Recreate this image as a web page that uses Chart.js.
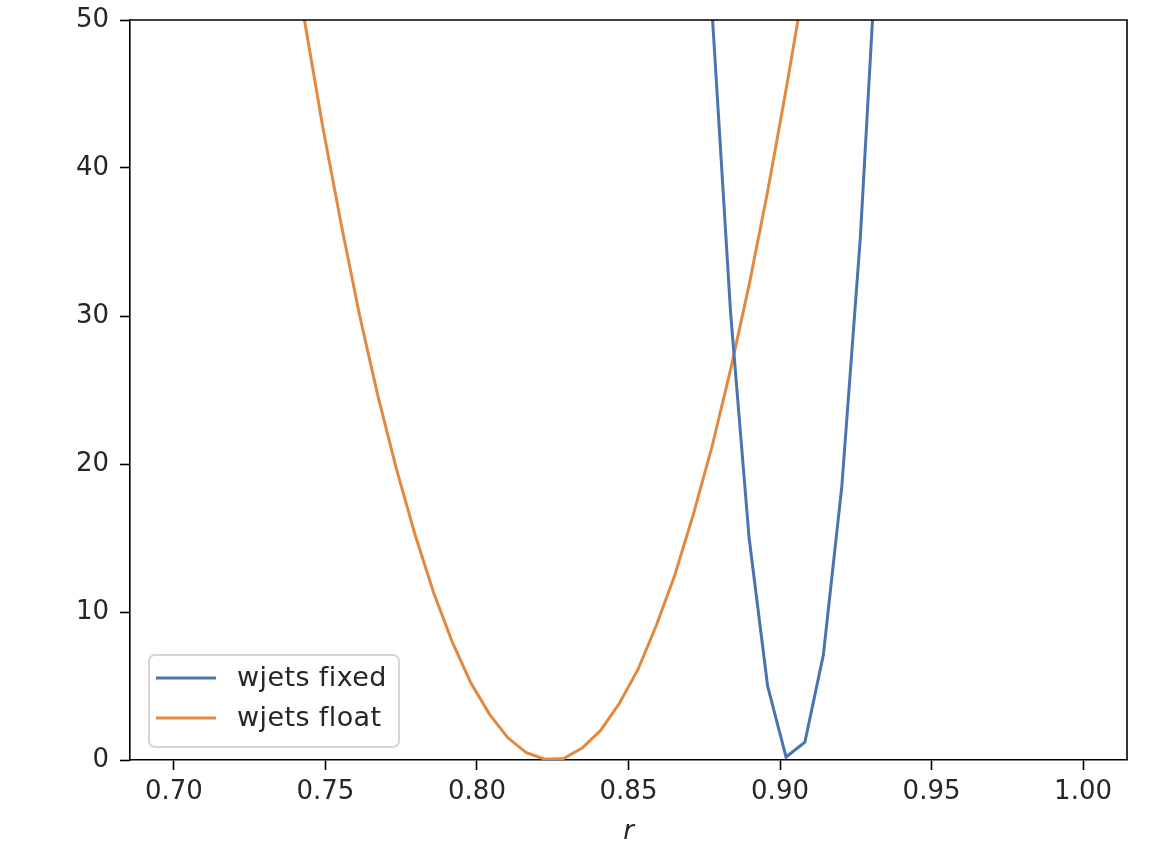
<!DOCTYPE html>
<html>
<head>
<meta charset="utf-8">
<script src="https://cdn.jsdelivr.net/npm/chart.js@4.4.1/dist/chart.umd.min.js"></script>
<style>
  html, body { margin: 0; padding: 0; background: #fff; }
  canvas { display: block; }
</style>
</head>
<body>
<canvas id="chart" width="1152" height="852"></canvas>
<script>
// scan points for "wjets float"
const rFloat = [0.7367, 0.7429, 0.7490, 0.7551, 0.7612, 0.7673, 0.7735, 0.7796, 0.7857, 0.7918,
                0.7980, 0.8041, 0.8102, 0.8163, 0.8224, 0.8286, 0.8347, 0.8408, 0.8469, 0.8531,
                0.8592, 0.8653, 0.8714, 0.8776, 0.8837, 0.8898, 0.8959, 0.9020, 0.9082];
const nllFloat = [58.0, 50.2, 42.9, 36.3, 30.1, 24.6, 19.6, 15.2, 11.3, 8.0,
                  5.2, 3.1, 1.5, 0.5, 0.05, 0.1, 0.8, 2.0, 3.8, 6.1,
                  9.1, 12.5, 16.6, 21.2, 26.4, 32.1, 38.4, 45.3, 52.7];

// scan points for "wjets fixed"
const rFixed = [0.8714, 0.8776, 0.8837, 0.8898, 0.8959, 0.9020, 0.9082, 0.9143, 0.9204, 0.9265, 0.9327];
const nllFixed = [76.0, 50.5, 30.2, 15.0, 5.0, 0.2, 1.2, 7.1, 18.5, 35.3, 58.0];

const xTicks = [0.70, 0.75, 0.80, 0.85, 0.90, 0.95, 1.00];
const yTicks = [0, 10, 20, 30, 40, 50];

const seriesNames = ['wjets fixed', 'wjets float'];
const colors = ['#4a74ad', '#e3893f'];

const FONT = 'DejaVu Sans';
const textColor = '#262626';

const toPoints = (xs, ys) => xs.map((x, i) => ({ x: x, y: ys[i] }));

// full box around the axes + legend in the lower left corner
const frameAndLegend = {
    id: 'frameAndLegend',
    afterDraw(chart) {
        const { ctx, chartArea: a } = chart;
        ctx.save();
        ctx.strokeStyle = '#000';
        ctx.lineWidth = 1.6;
        ctx.beginPath();
        ctx.moveTo(a.left, a.top);
        ctx.lineTo(a.right, a.top);
        ctx.lineTo(a.right, a.bottom);
        ctx.stroke();

        const bx = a.left + 19, bw = 250, bh = 92;
        const by = a.bottom - 13 - bh;
        ctx.beginPath();
        ctx.roundRect(bx, by, bw, bh, 6);
        ctx.fillStyle = 'rgba(255,255,255,0.8)';
        ctx.fill();
        ctx.strokeStyle = '#d6d6d6';
        ctx.lineWidth = 2;
        ctx.stroke();

        ctx.font = '27px "' + FONT + '"';
        ctx.letterSpacing = '0.4px'; // also keeps "fi" from becoming a ligature
        ctx.textBaseline = 'middle';
        ctx.textAlign = 'left';
        chart.data.datasets.forEach((ds, i) => {
            const yy = by + 23 + i * 40;
            ctx.strokeStyle = ds.borderColor;
            ctx.lineWidth = 3;
            ctx.beginPath();
            ctx.moveTo(bx + 7, yy);
            ctx.lineTo(bx + 67, yy);
            ctx.stroke();
            ctx.fillStyle = textColor;
            ctx.fillText(ds.label, bx + 88, yy + 1);
        });
        ctx.restore();
    }
};

const ctx = document.getElementById('chart').getContext('2d');
new Chart(ctx, {
    type: 'line',
    data: {
        datasets: [
            {
                label: seriesNames[0],
                data: toPoints(rFixed, nllFixed),
                borderColor: colors[0],
                borderWidth: 3,
                pointRadius: 0,
                tension: 0,
                fill: false,
            },
            {
                label: seriesNames[1],
                data: toPoints(rFloat, nllFloat),
                borderColor: colors[1],
                borderWidth: 3,
                pointRadius: 0,
                tension: 0,
                fill: false,
            },
        ],
    },
    options: {
        responsive: false,
        animation: false,
        devicePixelRatio: 1,
        layout: { padding: { left: 0, top: 20, right: 25, bottom: 0 } },
        plugins: {
            legend: { display: false },
            tooltip: { enabled: false },
        },
        scales: {
            x: {
                type: 'linear',
                min: 0.6855,
                max: 1.0145,
                afterBuildTicks: (scale) => { scale.ticks = xTicks.map(v => ({ value: v })); },
                afterFit: (scale) => {
                    scale.height = 92;
                    scale.paddingLeft = 0;
                    scale.paddingRight = 0;
                },
                ticks: {
                    font: { family: FONT, size: 26 },
                    color: textColor,
                    padding: 7,
                    maxRotation: 0,
                    callback: (v) => Number(v).toFixed(2),
                },
                grid: {
                    drawOnChartArea: false,
                    tickLength: 10,
                    tickColor: '#000',
                    tickWidth: 1.6,
                },
                border: { color: '#000', width: 1.6 },
                title: {
                    display: true,
                    text: 'r',
                    color: textColor,
                    font: { family: FONT, size: 26, style: 'italic' },
                    padding: { top: 0, bottom: 4 },
                },
            },
            y: {
                min: 0,
                max: 50,
                afterBuildTicks: (scale) => { scale.ticks = yTicks.map(v => ({ value: v })); },
                afterFit: (scale) => {
                    scale.width = 130;
                    scale.paddingTop = 0;
                    scale.paddingBottom = 0;
                },
                ticks: {
                    font: { family: FONT, size: 26 },
                    color: textColor,
                    padding: 11,
                },
                grid: {
                    drawOnChartArea: false,
                    tickLength: 10,
                    tickColor: '#000',
                    tickWidth: 1.6,
                },
                border: { color: '#000', width: 1.6 },
            },
        },
    },
    plugins: [frameAndLegend],
});
</script>
</body>
</html>
